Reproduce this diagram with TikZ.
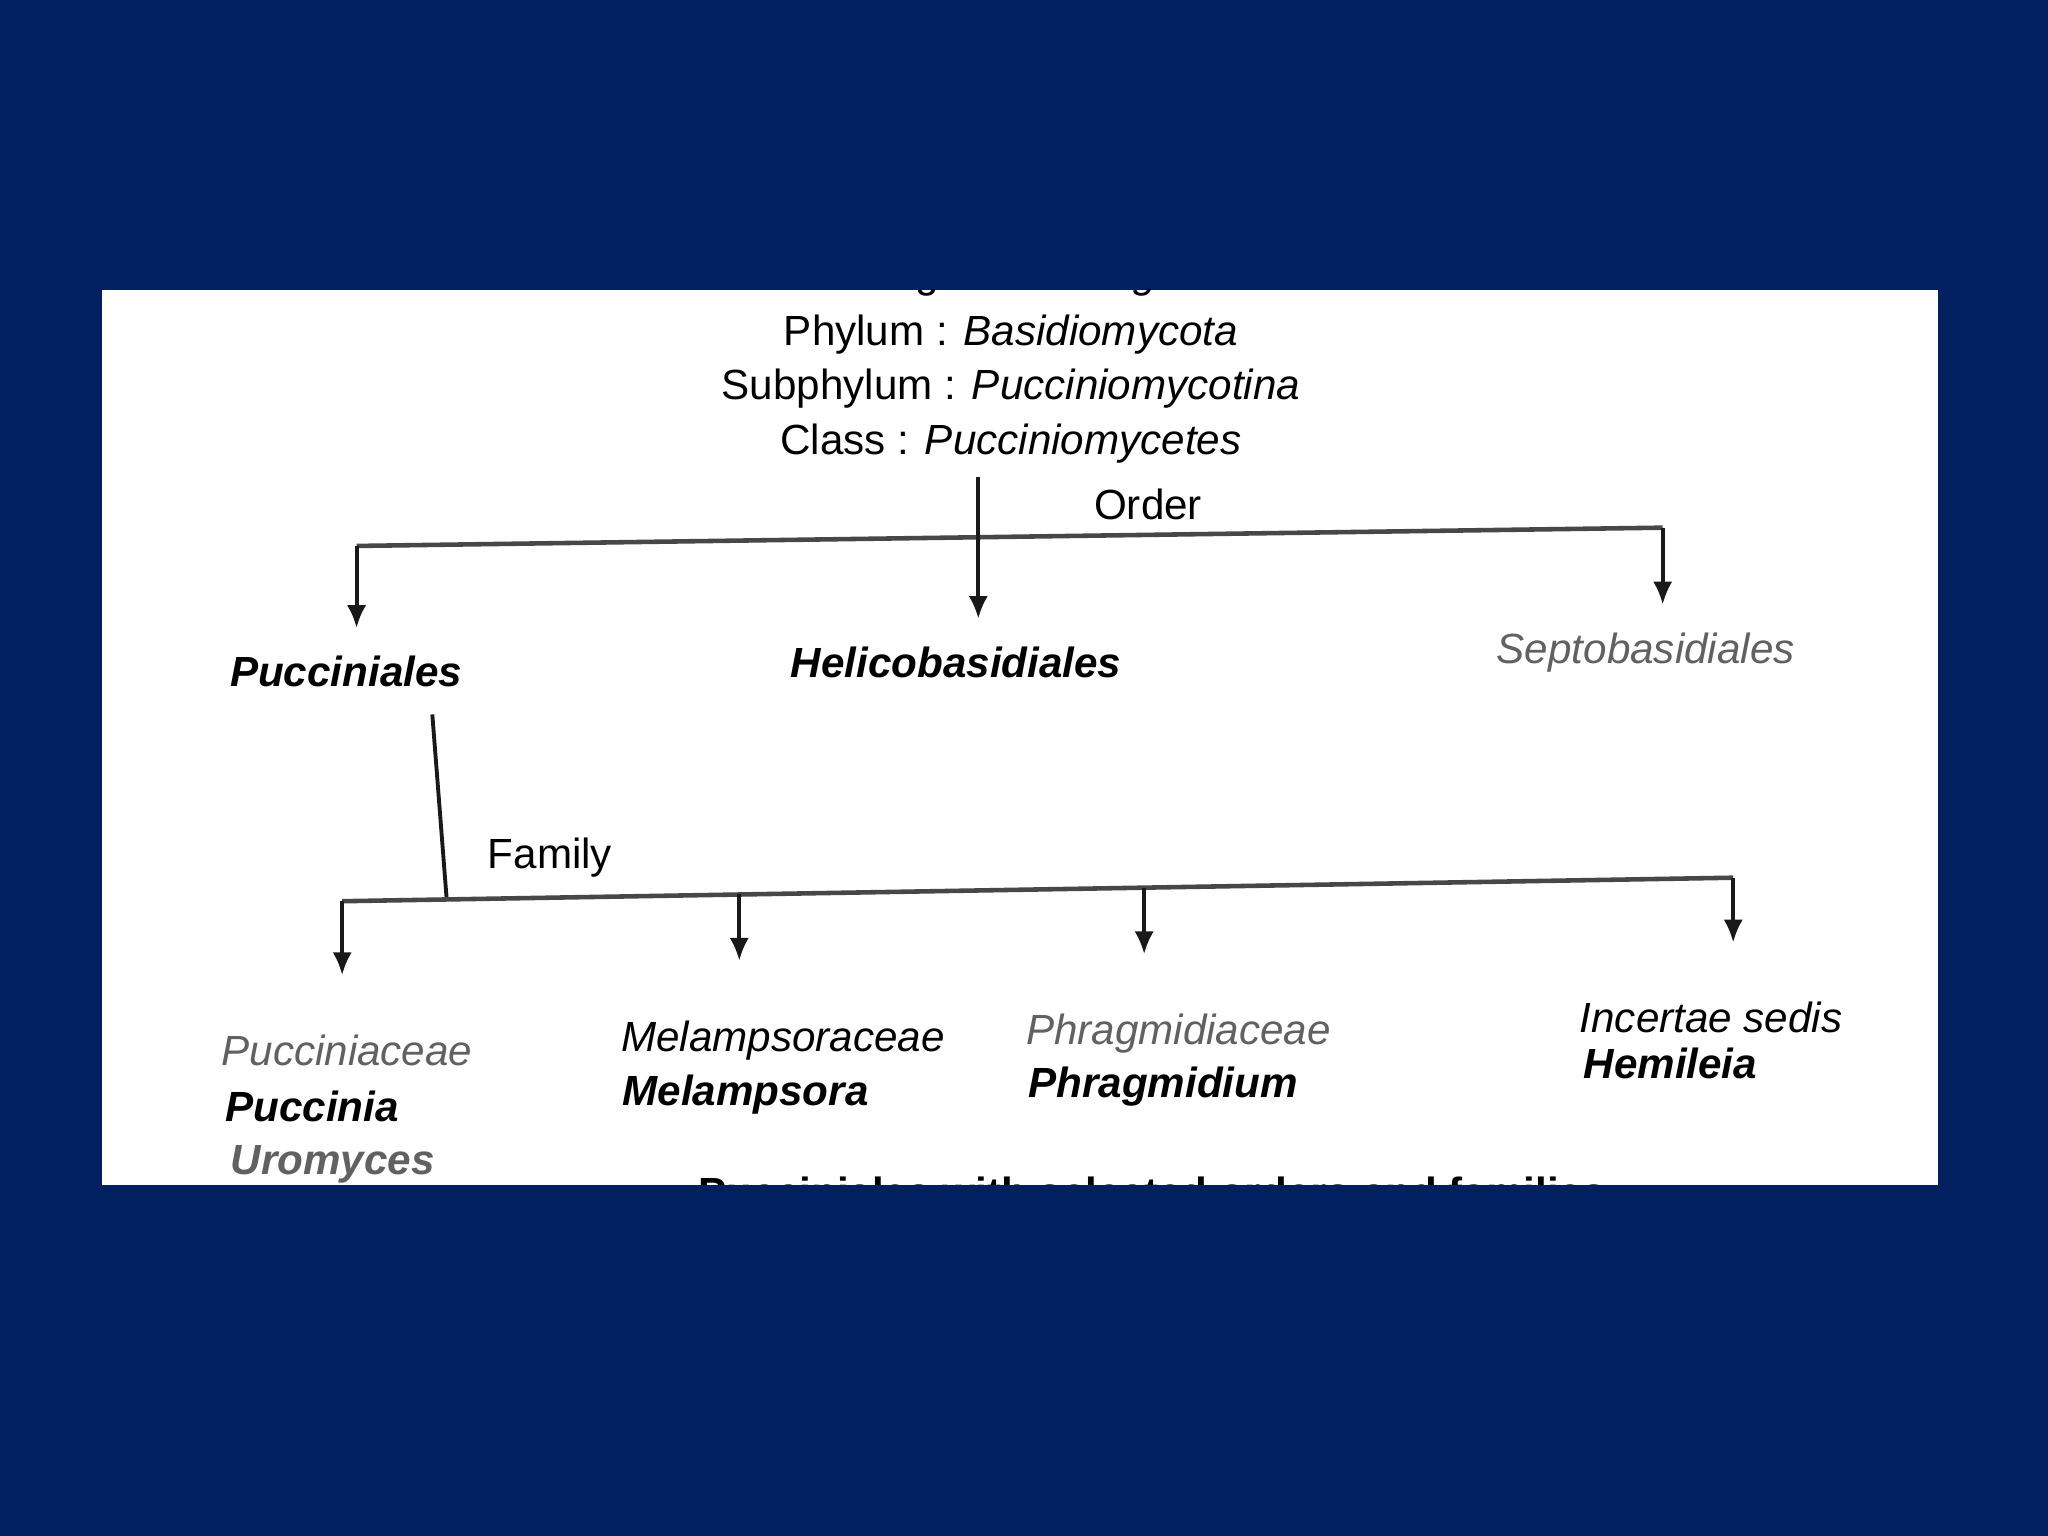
\documentclass[tikz,border=0pt]{standalone}
\usepackage{fontspec}
\setmainfont{Liberation Sans}
\usetikzlibrary{positioning,arrows.meta}
\definecolor{slideblue}{RGB}{0,32,96}
\tikzset{
  txt/.style={inner sep=0pt, text height=9pt, text depth=2.5pt, font=\fontsize{12}{15}\selectfont},
  taxon/.style={txt, font=\fontsize{12}{15}\selectfont\itshape},
  genus/.style={txt, font=\fontsize{12}{15}\selectfont\bfseries\itshape},
  pale/.style={text=black!62},
  bar/.style={draw=black!72, line width=1.3pt},
  stem/.style={draw=black!90, line width=1.1pt},
  drop/.style={stem, ->, shorten >=#1},
}
\begin{document}
\begin{tikzpicture}[x=0.0130612cm, y=-0.0130612cm, >={Latex[length=6.5pt,width=5.5pt]}]
% slide and white panel
\fill[slideblue] (0,0) rectangle (1568,1176);
\fill[white] (78,222) rectangle (1484,907);
\begin{scope}
\clip (78,222) rectangle (1484,907);

% header
\node[txt] (kingdom) at (774,211.5) {Kingdom : \textit{Fungi}};
\node[txt, below=4.6pt of kingdom] (phylum) {Phylum : \textit{Basidiomycota}};
\node[txt, below=3.5pt of phylum] (subphylum) {Subphylum : \textit{Pucciniomycotina}};
\node[txt, below=3.6pt of subphylum] (class) {Class : \textit{Pucciniomycetes}};

% orders
\node[txt] (order) at (879,389) {Order};
\node[genus] (puccin) at (265,517) {Pucciniales};
\node[genus] (helico) at (732,510) {Helicobasidiales};
\node[taxon, pale] (septo) at (1260,499) {Septobasidiales};

\coordinate (ordStem) at (749,365);
\coordinate (ordL) at (273,418);
\coordinate (ordR) at (1273,404);
\draw[bar] (ordL) -- (ordR);
\draw[drop=7.5pt] (ordStem) -- (ordStem |- helico.north);
\draw[drop=7.5pt] (ordL) -- (ordL |- puccin.north);
\draw[drop=7.5pt] (ordR) -- (ordR |- septo.north);

% families
\node[txt] (family) at (421,656) {Family};
\node[taxon, pale, anchor=west] (pucciniaceae) at (169,807) {Pucciniaceae};
\node[genus, below right=4pt and 1.1pt of pucciniaceae.south west, anchor=north west] (puccinia) {Puccinia};
\node[genus, pale, below right=3.3pt and 1.5pt of puccinia.south west, anchor=north west] (uromyces) {Uromyces};
\node[taxon, anchor=west] (melamps) at (475,796) {Melampsoraceae};
\node[genus, below right=3.7pt and 0.4pt of melamps.south west, anchor=north west] (melampsora) {Melampsora};
\node[taxon, pale, anchor=west] (phragm) at (785,791) {Phragmidiaceae};
\node[genus, below right=3.3pt and 0.7pt of phragm.south west, anchor=north west] (phragmidium) {Phragmidium};
\node[taxon, anchor=west] (incertae) at (1209,782) {Incertae sedis};
\node[genus, below right=1.1pt and 1.1pt of incertae.south west, anchor=north west] (hemileia) {Hemileia};

\coordinate (famStem) at (331,547);
\coordinate (famJ) at (342,688.6);
\coordinate (famA) at (262,690);
\coordinate (famB) at (566,684.8);
\coordinate (famC) at (876,679.6);
\coordinate (famD) at (1327,672);
\draw[stem] (famStem) -- (famJ);
\draw[bar] (famA) -- (famD);
\draw[drop=16.5pt] (famA) -- (famA |- pucciniaceae.north);
\draw[drop=16.5pt] (famB) -- (famB |- melamps.north);
\draw[drop=16.5pt] (famC) -- (famC |- phragm.north);
\draw[drop=16.5pt] (famD) -- (famD |- incertae.north);

% caption, cut by the panel
\node[txt, font=\fontsize{12}{15}\selectfont\bfseries, anchor=east] (caption) at (1230,916) {Pucciniales with selected orders and families};
\end{scope}
\end{tikzpicture}
\end{document}
